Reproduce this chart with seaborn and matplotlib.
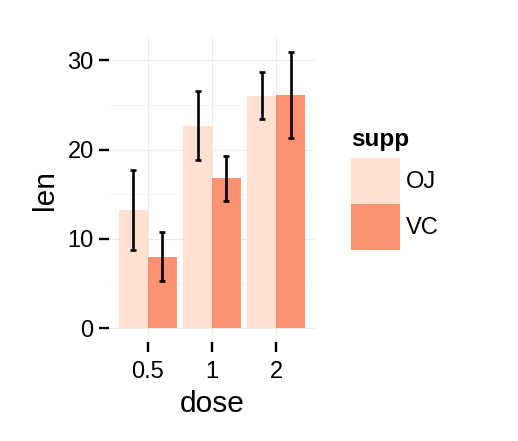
import pandas as pd
import seaborn as sns
import matplotlib.pyplot as plt
from matplotlib.patches import Patch

# ToothGrowth summary: mean len and sd by supp/dose
doses = ['0.5', '1', '2']
supps = ['OJ', 'VC']
oj_mean = [13.23, 22.70, 26.06]
vc_mean = [7.98, 16.77, 26.14]
oj_sd = [4.46, 3.91, 2.66]
vc_sd = [2.75, 2.52, 4.80]
colors = {'OJ': '#FEE0D2', 'VC': '#FC9272'}

df = pd.DataFrame({
    'dose': doses + doses,
    'supp': ['OJ'] * 3 + ['VC'] * 3,
    'len': oj_mean + vc_mean,
    'sd': oj_sd + vc_sd,
})

sns.set_style('white')
plt.rcParams['font.family'] = ['Liberation Sans', 'DejaVu Sans']
plt.rcParams['text.color'] = 'black'
plt.rcParams['axes.labelcolor'] = 'black'
plt.rcParams['xtick.color'] = 'black'
plt.rcParams['ytick.color'] = 'black'

fig = plt.figure(figsize=(5.18, 4.41), dpi=100)
ax = fig.add_axes([0.2104, 0.2245, 0.3977, 0.6893])

sns.barplot(data=df, x='dose', y='len', hue='supp', order=doses, hue_order=supps,
            palette=colors, width=0.9, errorbar=None, saturation=1,
            linewidth=0, legend=False, ax=ax)

# error bars (mean +/- sd) at the bar centres
for patch, (_, row) in zip(ax.patches, df.iterrows()):
    xc = patch.get_x() + patch.get_width() / 2
    ax.errorbar(xc, row['len'], yerr=row['sd'], color='black', lw=1.9,
                capsize=2.4, capthick=1.9, zorder=5)

ax.set_ylim(-1.55, 32.5)
ax.set_xlim(-0.6, 2.6)
ax.set_yticks([0, 10, 20, 30])
ax.set_yticks([5, 15, 25], minor=True)
ax.grid(True, which='major', color='#EBEBEB', lw=0.8)
ax.grid(True, which='minor', axis='y', color='#F5F5F5', lw=0.6)
ax.set_axisbelow(True)
for s in ax.spines.values():
    s.set_visible(False)

ax.tick_params(axis='both', which='major', length=7.5, width=1.7, color='black',
               labelsize=17, labelcolor='black', pad=3.5, direction='out',
               bottom=True, left=True)
ax.tick_params(axis='x', which='major', pad=6.5)
ax.tick_params(axis='y', which='minor', length=0)
ax.set_xlabel('dose', fontsize=21.5, labelpad=5)
ax.set_ylabel('len', fontsize=21.5, labelpad=6)

handles = [Patch(facecolor=colors[s], edgecolor='none', label=s) for s in supps]
leg = fig.legend(handles=handles, title='supp', loc='upper left',
                 bbox_to_anchor=(0.678, 0.71), frameon=False, fontsize=17,
                 title_fontproperties={'weight': 'bold', 'size': 17.5},
                 handlelength=2.05, handleheight=2.62, labelspacing=0,
                 handletextpad=0.25, borderpad=0, borderaxespad=0,
                 alignment='left')
leg._legend_box.sep = 5

fig.savefig('out.png', dpi=100)
